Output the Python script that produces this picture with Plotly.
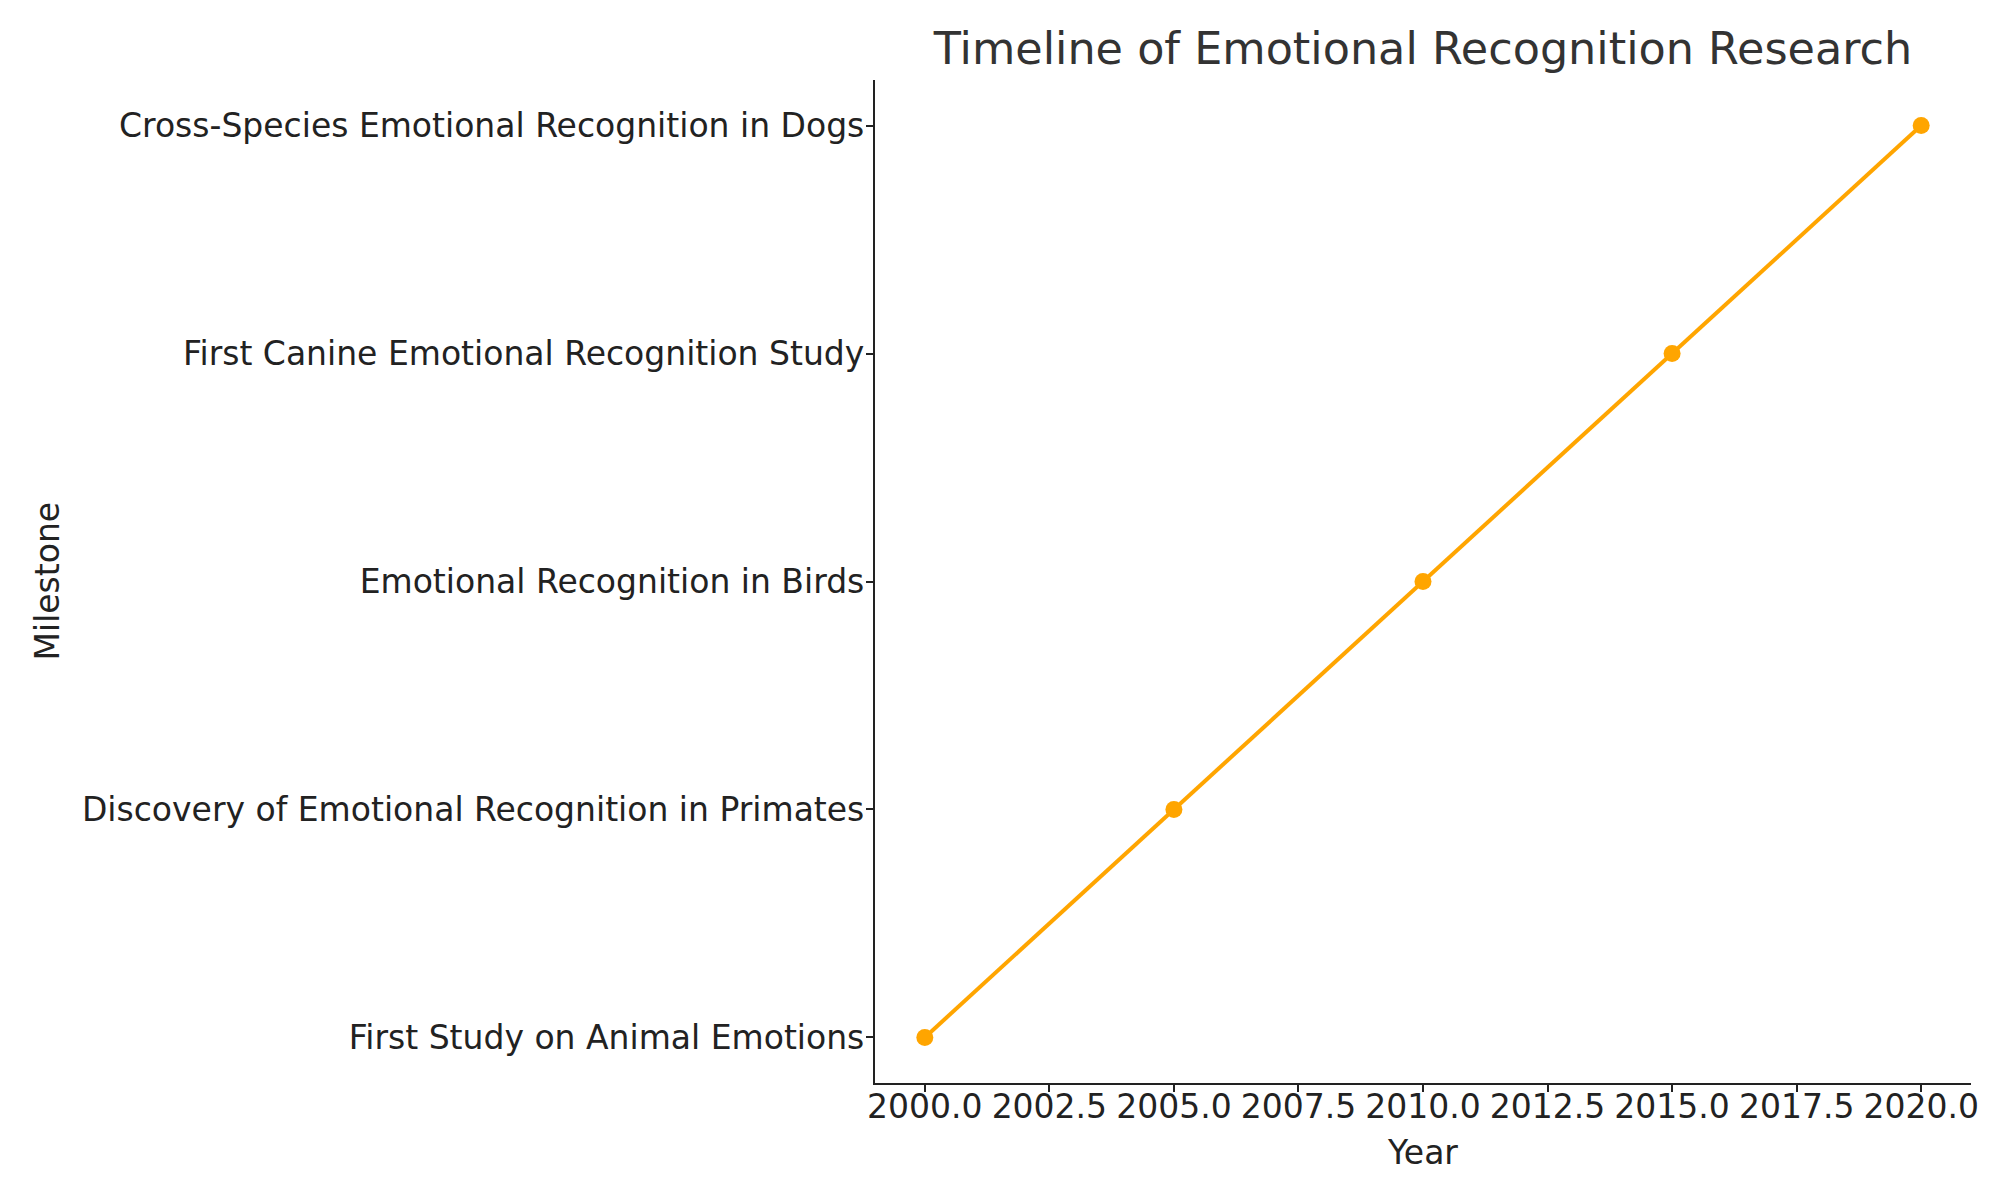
import plotly.graph_objects as go

years = [2000, 2005, 2010, 2015, 2020]
milestones = [
    "First Study on Animal Emotions",
    "Discovery of Emotional Recognition in Primates",
    "Emotional Recognition in Birds",
    "First Canine Emotional Recognition Study",
    "Cross-Species Emotional Recognition in Dogs",
]
title_text = "Timeline of Emotional Recognition Research"
x_title = "Year"
y_title = "Milestone"

fig = go.Figure()
fig.add_trace(go.Scatter(
    x=years, y=milestones, mode="lines+markers",
    line=dict(color="#FFA500", width=4),
    marker=dict(color="#FFA500", size=17),
    showlegend=False,
))

font = "DejaVu Sans"
fig.update_layout(
    width=2000, height=1200,
    margin=dict(l=875, r=29, t=80, b=117),
    paper_bgcolor="white", plot_bgcolor="white",
    font=dict(family=font, size=33, color="#222222"),
    title=dict(text=title_text, x=0.5, xref="paper", xanchor="center",
               y=1 - 48 / 1200, yref="container", yanchor="middle",
               font=dict(family=font, size=44.5, color="#333333")),
)
fig.update_xaxes(
    range=[1999, 2021], tick0=2000, dtick=2.5, tickformat=".1f",
    showgrid=False, zeroline=False, showline=True, linecolor="#222222", linewidth=2.2,
    ticks="outside", ticklen=7, tickwidth=2, tickcolor="#222222",
    ticklabelstandoff=-14,
    title=dict(text=x_title, standoff=16, font=dict(size=33, color="#222222")),
    automargin=False,
)
fig.update_yaxes(
    type="category", categoryorder="array", categoryarray=milestones,
    range=[-0.2, 4.2],
    showgrid=False, zeroline=False, showline=True, linecolor="#222222", linewidth=2.2,
    ticks="outside", ticklen=7, tickwidth=2, tickcolor="#222222",
    ticklabelstandoff=-5,
    automargin=False,
)
# y-axis title placed as rotated annotation
fig.add_annotation(
    text=y_title, textangle=-90, showarrow=False,
    xref="paper", yref="paper", x=(47 - 875) / 1096, y=0.5,
    xanchor="center", yanchor="middle",
    font=dict(family=font, size=33, color="#222222"),
)

fig.write_html("out.html")
